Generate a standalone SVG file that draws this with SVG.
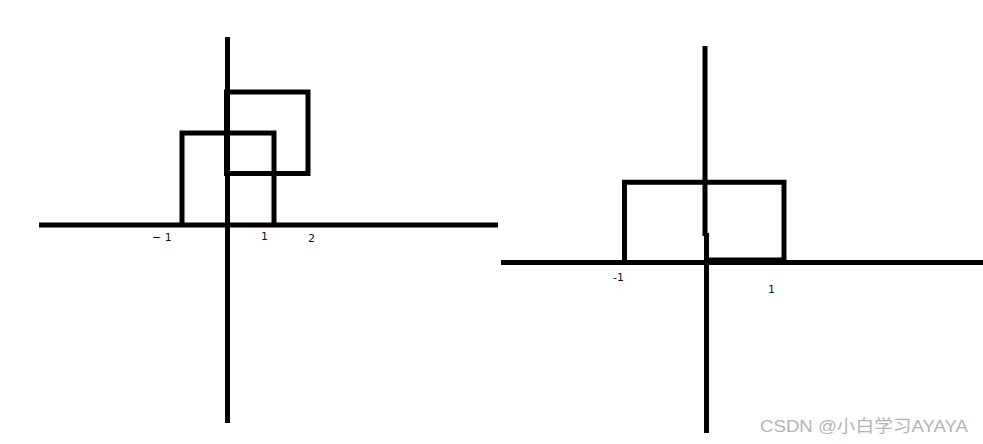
<svg xmlns="http://www.w3.org/2000/svg" width="983" height="444" viewBox="0 0 983 444">
<style>
.ln{stroke:#000;stroke-width:5;fill:none;stroke-linecap:butt}
.lb{font-family:"DejaVu Sans",sans-serif;font-size:11px;fill:#111}
.wm{font-family:"Liberation Sans","Noto Sans CJK SC",sans-serif;font-size:17px;fill:#b4b4b4}
</style>
<rect width="983" height="444" fill="#fff"/>
<g id="left-figure">
<g id="left-axes">
<line class="ln" x1="39" y1="225" x2="498" y2="225"/>
<line class="ln" x1="227.5" y1="37" x2="227.5" y2="423"/>
</g>
<g id="left-square-a">
<polyline class="ln" points="182,225 182,133 274,133 274,225"/>
</g>
<g id="left-square-b">
<rect class="ln" x="226.5" y="92" width="81.5" height="81.5"/>
</g>
<g id="left-labels">
<text class="lb" x="152" y="241">− 1</text>
<text class="lb" x="261" y="240">1</text>
<text class="lb" x="308" y="242">2</text>
</g>
</g>
<g id="right-figure">
<g id="right-axes">
<line class="ln" x1="501" y1="262.5" x2="983" y2="262.5"/>
<line class="ln" x1="705" y1="46" x2="705" y2="236"/>
<line class="ln" x1="706.5" y1="233" x2="706.5" y2="433"/>
</g>
<g id="right-rect">
<polyline class="ln" points="624.5,262 624.5,182.3 784,182.3 784,260 706,260"/>
</g>
<g id="right-labels">
<text class="lb" x="613" y="281">-1</text>
<text class="lb" x="768" y="293" fill="#3a1a10">1</text>
</g>
</g>
<text class="wm" x="760" y="432" textLength="208" lengthAdjust="spacingAndGlyphs">CSDN @小白学习AYAYA</text>
</svg>
